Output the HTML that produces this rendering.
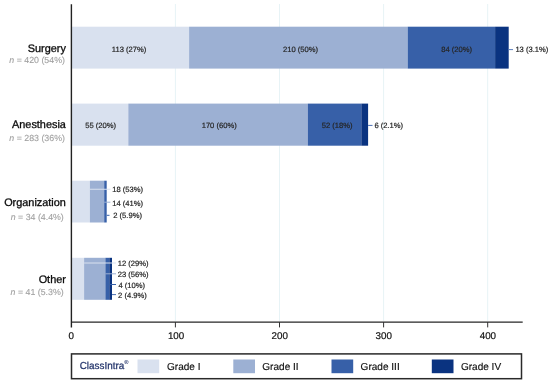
<!DOCTYPE html>
<html><head><meta charset="utf-8">
<style>
html,body{margin:0;padding:0;background:#fff;}
body{width:550px;height:382px;overflow:hidden;}
svg{display:block;text-rendering:geometricPrecision;font-family:"Liberation Sans",Arial,sans-serif;}
.cat{font-size:10.9px;fill:#0a0a0a;text-anchor:end;stroke:#0a0a0a;stroke-width:0.3px;}
.sub{font-size:8.8px;fill:#a0a0a0;stroke:#a0a0a0;stroke-width:0.1px;text-anchor:end;}
.lab{font-size:7.6px;fill:#262626;stroke:#262626;stroke-width:0.2px;}
.tick{font-size:9.8px;fill:#111;text-anchor:middle;stroke:#111;stroke-width:0.2px;}
.leg{font-size:10.05px;fill:#111;stroke:#111;stroke-width:0.15px;}
</style></head><body>
<svg width="550" height="382" viewBox="0 0 550 382">
<rect width="550" height="382" fill="#fff"/>
<!-- gridlines -->
<g stroke="#e7f3f6" stroke-width="1">
<line x1="175.4" y1="4" x2="175.4" y2="321"/>
<line x1="279.5" y1="4" x2="279.5" y2="321"/>
<line x1="383.6" y1="4" x2="383.6" y2="321"/>
<line x1="487.7" y1="4" x2="487.7" y2="321"/>
</g>
<!-- Surgery -->
<rect x="72" y="26.7" width="117.1" height="41.9" fill="#d9e1ef"/>
<rect x="189.100" y="26.7" width="218.6" height="41.9" fill="#9cb0d3"/>
<rect x="407.7" y="26.7" width="87.4" height="41.9" fill="#3760a8"/>
<rect x="495.100" y="26.7" width="13.6" height="41.9" fill="#0a3380"/>
<!-- Anesthesia -->
<rect x="72" y="103.6" width="56.3" height="42.1" fill="#d9e1ef"/>
<rect x="128.3" y="103.6" width="179.5" height="42.1" fill="#9cb0d3"/>
<rect x="307.8" y="103.6" width="53.5" height="42.1" fill="#3760a8"/>
<rect x="361.3" y="103.6" width="6.8" height="42.1" fill="#0a3380"/>
<!-- Organization -->
<rect x="72" y="180.700" width="17.9" height="41.8" fill="#d9e1ef"/>
<rect x="89.9" y="180.700" width="14.3" height="41.8" fill="#9cb0d3"/>
<rect x="104.2" y="180.700" width="2.5" height="41.8" fill="#3760a8"/>
<!-- Other -->
<rect x="72" y="257.8" width="12.1" height="42" fill="#d9e1ef"/>
<rect x="84.100" y="257.8" width="21.3" height="42" fill="#9cb0d3"/>
<rect x="105.4" y="257.8" width="3.9" height="42" fill="#3760a8"/>
<rect x="109.3" y="257.8" width="2.7" height="42" fill="#0a3380"/>
<!-- axes -->
<line x1="71.4" y1="4.300" x2="71.4" y2="327.5" stroke="#222" stroke-width="1.4"/>
<line x1="71.4" y1="322.1" x2="522.7" y2="322.1" stroke="#262626" stroke-width="1.4"/>
<g stroke="#333" stroke-width="1">
<line x1="175.4" y1="322" x2="175.4" y2="327.4"/>
<line x1="279.5" y1="322" x2="279.5" y2="327.4"/>
<line x1="383.6" y1="322" x2="383.6" y2="327.4"/>
<line x1="487.7" y1="322" x2="487.7" y2="327.4"/>
</g>
<text class="tick" x="71.3" y="339.100">0</text>
<text class="tick" x="176.100" y="339.100">100</text>
<text class="tick" x="279.700" y="339.100">200</text>
<text class="tick" x="383.700" y="339.100">300</text>
<text class="tick" x="487.900" y="339.100">400</text>
<!-- category labels -->
<text class="cat" x="65.900" y="51.6">Surgery</text>
<text class="sub" x="64.9" y="63.300"><tspan font-style="italic">n</tspan> = 420 (54%)</text>
<text class="cat" x="65.900" y="128.400">Anesthesia</text>
<text class="sub" x="64.9" y="141.400"><tspan font-style="italic">n</tspan> = 283 (36%)</text>
<text class="cat" x="65.900" y="205.800">Organization</text>
<text class="sub" x="63.8" y="220.000"><tspan font-style="italic">n</tspan> = 34 (4.4%)</text>
<text class="cat" x="65.900" y="282.600">Other</text>
<text class="sub" x="63.7" y="295.300"><tspan font-style="italic">n</tspan> = 41 (5.3%)</text>
<!-- bar labels -->
<text class="lab" x="129.100" y="51.900" text-anchor="middle">113 (27%)</text>
<text class="lab" x="300.600" y="52" text-anchor="middle">210 (50%)</text>
<text class="lab" x="456.600" y="51.900" text-anchor="middle">84 (20%)</text>
<text class="lab" x="515.4" y="51.900">13 (3.1%)</text>
<line x1="508.600" y1="49.600" x2="513" y2="49.600" stroke="#5a7dbb" stroke-width="1"/>
<text class="lab" x="100.600" y="128.300" text-anchor="middle">55 (20%)</text>
<text class="lab" x="219.200" y="128.300" text-anchor="middle">170 (60%)</text>
<text class="lab" x="337.100" y="128.300" text-anchor="middle">52 (18%)</text>
<text class="lab" x="374.4" y="128.300">6 (2.1%)</text>
<line x1="368.100" y1="125.400" x2="372.5" y2="125.400" stroke="#4a6fb5" stroke-width="1"/>
<!-- org labels -->
<text class="lab" x="127.600" y="192.400" text-anchor="middle">18 (53%)</text>
<text class="lab" x="127.600" y="205.700" text-anchor="middle">14 (41%)</text>
<text class="lab" x="127.600" y="218.400" text-anchor="middle">2 (5.9%)</text>
<line x1="89.9" y1="189.250" x2="110.4" y2="189.250" stroke="#d9e1ef" stroke-width="1"/>
<line x1="104.2" y1="202.200" x2="110.4" y2="202.200" stroke="#9cb0d3" stroke-width="1"/>
<line x1="106.7" y1="215.300" x2="109.5" y2="215.300" stroke="#3760a8" stroke-width="1"/>
<!-- other labels -->
<text class="lab" x="117.700" y="265.800">12 (29%)</text>
<text class="lab" x="117.700" y="276.800">23 (56%)</text>
<text class="lab" x="118.400" y="287.700">4 (10%)</text>
<text class="lab" x="118.100" y="297.900">2 (4.9%)</text>
<line x1="84.100" y1="263" x2="116" y2="263" stroke="#d9e1ef" stroke-width="1"/>
<line x1="105.4" y1="273.800" x2="116" y2="273.800" stroke="#9cb0d3" stroke-width="1"/>
<line x1="109.3" y1="284.500" x2="116" y2="284.500" stroke="#3760a8" stroke-width="1"/>
<line x1="112" y1="294.600" x2="116" y2="294.600" stroke="#3760a8" stroke-width="0.9"/>
<!-- legend -->
<rect x="71.500" y="353.900" width="450" height="24.8" fill="#fff" stroke="#2a2a2a" stroke-width="1.5"/>
<text x="79.700" y="368.700" font-size="10.1" fill="#22336a" stroke="#22336a" stroke-width="0.25" textLength="44.5" lengthAdjust="spacingAndGlyphs">ClassIntra</text><text x="124.300" y="364.300" font-size="5.800" font-weight="bold" fill="#22336a">®</text>
<rect x="137.5" y="359.500" width="21.7" height="13.700" fill="#d9e1ef"/>
<text class="leg" x="167.000" y="370.200">Grade I</text>
<rect x="233.300" y="359.500" width="21.7" height="13.700" fill="#9cb0d3"/>
<text class="leg" x="262.300" y="370.200">Grade II</text>
<rect x="331.5" y="359.500" width="21.7" height="13.700" fill="#3760a8"/>
<text class="leg" x="360.600" y="370.200">Grade III</text>
<rect x="431.800" y="359.500" width="21.7" height="13.700" fill="#0a3380"/>
<text class="leg" x="460.900" y="370.200">Grade IV</text>
</svg>
</body></html>
